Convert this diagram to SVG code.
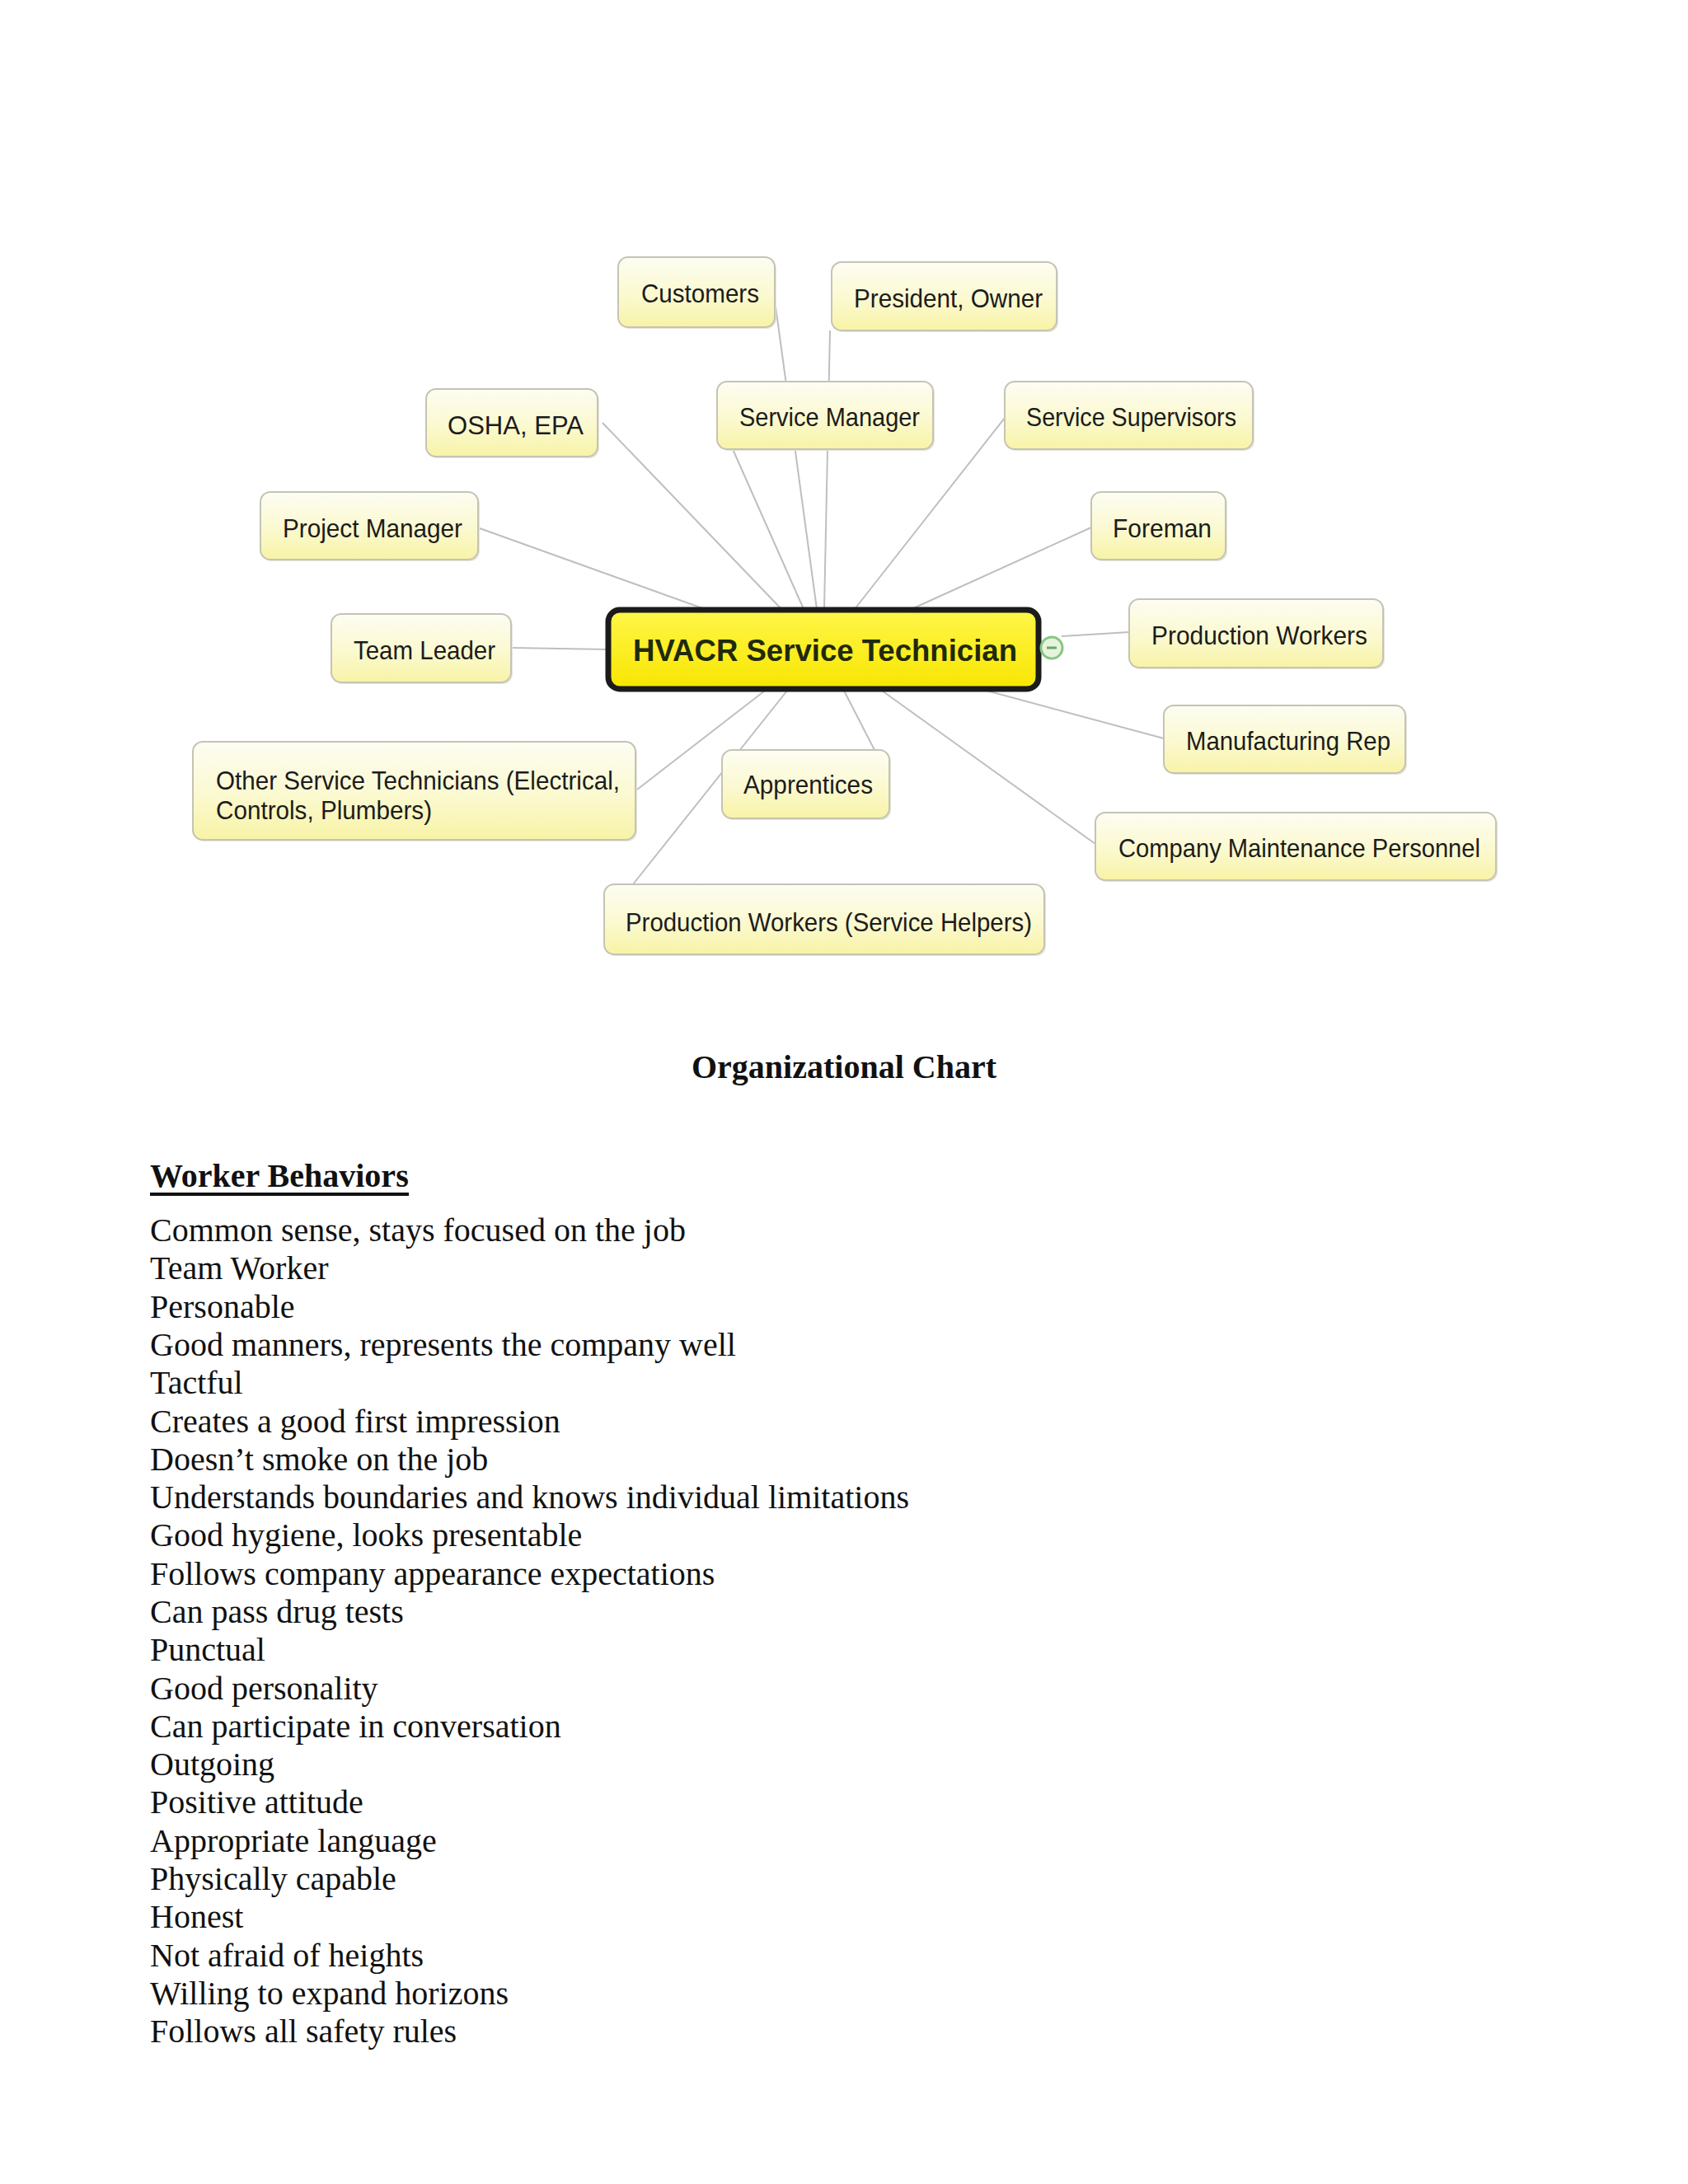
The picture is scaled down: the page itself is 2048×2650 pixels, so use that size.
<svg xmlns="http://www.w3.org/2000/svg" width="2048" height="2650" viewBox="0 0 2048 2650">
<defs>
<linearGradient id="nodeFill" x1="0" y1="0" x2="0" y2="1">
<stop offset="0" stop-color="#fdfdf3"/>
<stop offset="0.55" stop-color="#fbf9cf"/>
<stop offset="1" stop-color="#f8f3a6"/>
</linearGradient>
<linearGradient id="centerFill" x1="0" y1="0" x2="0" y2="1">
<stop offset="0" stop-color="#fff64a"/>
<stop offset="1" stop-color="#f8e600"/>
</linearGradient>
<style>
.node rect.box{fill:url(#nodeFill);stroke:#c4c4b4;stroke-width:2}
.node rect.shadow{fill:#e6e6de}
.lbl{font-family:"Liberation Sans",Arial,sans-serif;font-size:32px;fill:#1c1c1c}
.center-lbl{font-family:"Liberation Sans",Arial,sans-serif;font-size:37px;font-weight:bold;fill:#1f2a0c}
.conn line{stroke:#bfbfbf;stroke-width:2}
.doc{font-family:"Liberation Serif","Times New Roman",serif;font-size:40px;fill:#111}
.docb{font-family:"Liberation Serif","Times New Roman",serif;font-size:40px;font-weight:bold;fill:#111}
</style>
</defs>
<rect width="2048" height="2650" fill="#ffffff"/>

<g id="connectors" class="conn">
<line x1="940" y1="364" x2="991" y2="739"/>
<line x1="1007" y1="401" x2="1000" y2="739"/>
<line x1="889" y1="545" x2="975" y2="739"/>
<line x1="731" y1="513" x2="948" y2="739"/>
<line x1="582" y1="641" x2="855" y2="739"/>
<line x1="1219" y1="507" x2="1037" y2="739"/>
<line x1="1324" y1="640" x2="1106" y2="739"/>
<line x1="620" y1="786" x2="738" y2="788"/>
<line x1="1288" y1="772" x2="1370" y2="767"/>
<line x1="1197" y1="838" x2="1412" y2="896"/>
<line x1="1070" y1="838" x2="1329" y2="1024"/>
<line x1="1024" y1="838" x2="1061" y2="910"/>
<line x1="928" y1="838" x2="773" y2="958"/>
<line x1="955" y1="838" x2="768" y2="1073"/>
</g>

<g id="node-customers" class="node">
<rect class="shadow" x="752" y="314" width="190" height="85" rx="12"/>
<rect class="box" x="750" y="312" width="190" height="85" rx="12"/>
<text class="lbl" x="778" y="367" textLength="143" lengthAdjust="spacingAndGlyphs">Customers</text>
</g>
<g id="node-president" class="node">
<rect class="shadow" x="1011" y="320" width="273" height="83" rx="12"/>
<rect class="box" x="1009" y="318" width="273" height="83" rx="12"/>
<text class="lbl" x="1036" y="373" textLength="229" lengthAdjust="spacingAndGlyphs">President, Owner</text>
</g>
<g id="node-service-manager" class="node">
<rect class="shadow" x="872" y="465" width="262" height="82" rx="12"/>
<rect class="box" x="870" y="463" width="262" height="82" rx="12"/>
<text class="lbl" x="897" y="517" textLength="219" lengthAdjust="spacingAndGlyphs">Service Manager</text>
</g>
<g id="node-service-supervisors" class="node">
<rect class="shadow" x="1221" y="465" width="301" height="82" rx="12"/>
<rect class="box" x="1219" y="463" width="301" height="82" rx="12"/>
<text class="lbl" x="1245" y="517" textLength="255" lengthAdjust="spacingAndGlyphs">Service Supervisors</text>
</g>
<g id="node-osha" class="node">
<rect class="shadow" x="519" y="474" width="208" height="82" rx="12"/>
<rect class="box" x="517" y="472" width="208" height="82" rx="12"/>
<text class="lbl" x="543" y="527" textLength="165" lengthAdjust="spacingAndGlyphs">OSHA, EPA</text>
</g>
<g id="node-project-manager" class="node">
<rect class="shadow" x="318" y="599" width="264" height="82" rx="12"/>
<rect class="box" x="316" y="597" width="264" height="82" rx="12"/>
<text class="lbl" x="343" y="652" textLength="218" lengthAdjust="spacingAndGlyphs">Project Manager</text>
</g>
<g id="node-foreman" class="node">
<rect class="shadow" x="1326" y="599" width="163" height="82" rx="12"/>
<rect class="box" x="1324" y="597" width="163" height="82" rx="12"/>
<text class="lbl" x="1350" y="652" textLength="120" lengthAdjust="spacingAndGlyphs">Foreman</text>
</g>
<g id="node-team-leader" class="node">
<rect class="shadow" x="404" y="747" width="218" height="83" rx="12"/>
<rect class="box" x="402" y="745" width="218" height="83" rx="12"/>
<text class="lbl" x="429" y="800" textLength="172" lengthAdjust="spacingAndGlyphs">Team Leader</text>
</g>
<g id="node-production-workers" class="node">
<rect class="shadow" x="1372" y="729" width="308" height="83" rx="12"/>
<rect class="box" x="1370" y="727" width="308" height="83" rx="12"/>
<text class="lbl" x="1397" y="782" textLength="262" lengthAdjust="spacingAndGlyphs">Production Workers</text>
</g>
<g id="node-manufacturing-rep" class="node">
<rect class="shadow" x="1414" y="858" width="293" height="82" rx="12"/>
<rect class="box" x="1412" y="856" width="293" height="82" rx="12"/>
<text class="lbl" x="1439" y="910" textLength="248" lengthAdjust="spacingAndGlyphs">Manufacturing Rep</text>
</g>
<g id="node-other-technicians" class="node">
<rect class="shadow" x="236" y="902" width="537" height="119" rx="12"/>
<rect class="box" x="234" y="900" width="537" height="119" rx="12"/>
<text class="lbl" x="262" y="958" textLength="490" lengthAdjust="spacingAndGlyphs">Other Service Technicians (Electrical,</text>
<text class="lbl" x="262" y="994" textLength="262" lengthAdjust="spacingAndGlyphs">Controls, Plumbers)</text>
</g>
<g id="node-apprentices" class="node">
<rect class="shadow" x="878" y="912" width="203" height="83" rx="12"/>
<rect class="box" x="876" y="910" width="203" height="83" rx="12"/>
<text class="lbl" x="902" y="963" textLength="157" lengthAdjust="spacingAndGlyphs">Apprentices</text>
</g>
<g id="node-company-maintenance" class="node">
<rect class="shadow" x="1331" y="988" width="486" height="82" rx="12"/>
<rect class="box" x="1329" y="986" width="486" height="82" rx="12"/>
<text class="lbl" x="1357" y="1040" textLength="439" lengthAdjust="spacingAndGlyphs">Company Maintenance Personnel</text>
</g>
<g id="node-service-helpers" class="node">
<rect class="shadow" x="735" y="1075" width="534" height="85" rx="12"/>
<rect class="box" x="733" y="1073" width="534" height="85" rx="12"/>
<text class="lbl" x="759" y="1130" textLength="493" lengthAdjust="spacingAndGlyphs">Production Workers (Service Helpers)</text>
</g>

<g id="node-hvacr" class="node-center">
<rect x="738" y="740" width="522" height="96" rx="14" fill="url(#centerFill)" stroke="#1b1b1b" stroke-width="7"/>
<text class="center-lbl" x="768" y="802" textLength="466" lengthAdjust="spacingAndGlyphs">HVACR Service Technician</text>
<circle cx="1276" cy="786" r="13" fill="#e6f4dc" stroke="#86c686" stroke-width="3"/>
<line x1="1270" y1="786" x2="1282" y2="786" stroke="#6aa66a" stroke-width="3"/>
</g>

<g id="caption">
<text class="docb" x="1024" y="1308" text-anchor="middle">Organizational  Chart</text>
</g>

<g id="worker-behaviors">
<text class="docb" x="182" y="1440">Worker Behaviors</text>
<line x1="182" y1="1449" x2="496" y2="1449" stroke="#111" stroke-width="4"/>
<text class="doc" x="182" y="1506">Common sense, stays focused on the job</text>
<text class="doc" x="182" y="1552">Team Worker</text>
<text class="doc" x="182" y="1599">Personable</text>
<text class="doc" x="182" y="1645">Good manners, represents the company well</text>
<text class="doc" x="182" y="1691">Tactful</text>
<text class="doc" x="182" y="1738">Creates a good first impression</text>
<text class="doc" x="182" y="1784">Doesn’t smoke on the job</text>
<text class="doc" x="182" y="1830">Understands boundaries and knows individual limitations</text>
<text class="doc" x="182" y="1876">Good hygiene, looks presentable</text>
<text class="doc" x="182" y="1923">Follows company appearance expectations</text>
<text class="doc" x="182" y="1969">Can pass drug tests</text>
<text class="doc" x="182" y="2015">Punctual</text>
<text class="doc" x="182" y="2062">Good personality</text>
<text class="doc" x="182" y="2108">Can participate in conversation</text>
<text class="doc" x="182" y="2154">Outgoing</text>
<text class="doc" x="182" y="2200">Positive attitude</text>
<text class="doc" x="182" y="2247">Appropriate language</text>
<text class="doc" x="182" y="2293">Physically capable</text>
<text class="doc" x="182" y="2339">Honest</text>
<text class="doc" x="182" y="2386">Not afraid of heights</text>
<text class="doc" x="182" y="2432">Willing to expand horizons</text>
<text class="doc" x="182" y="2478">Follows all safety rules</text>
</g>
</svg>
